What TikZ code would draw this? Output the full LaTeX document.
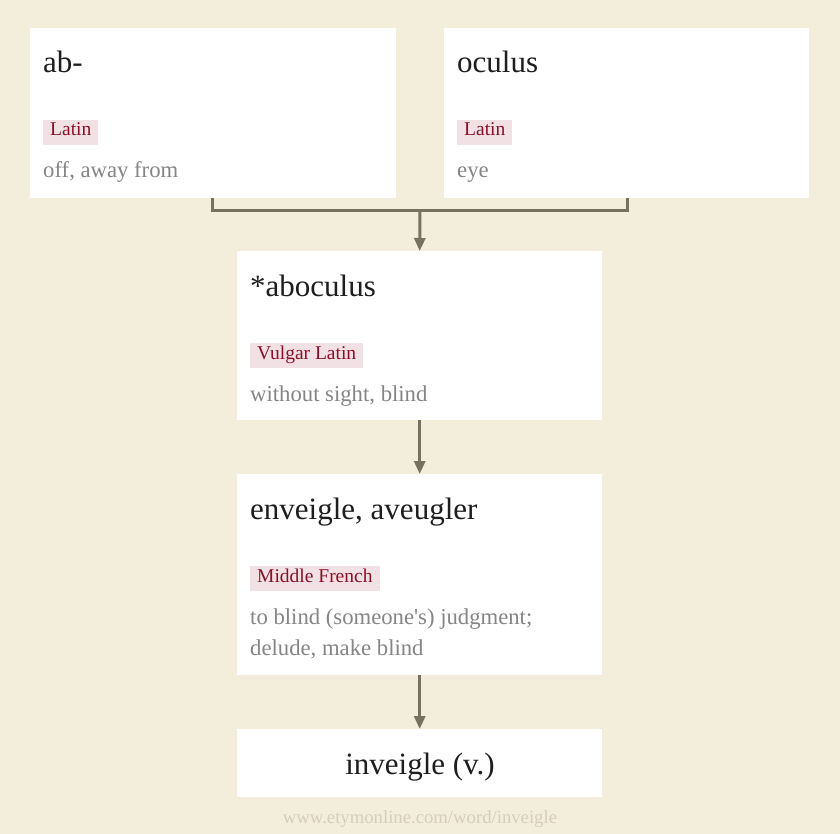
\documentclass[tikz,border=0pt]{standalone}
\usepackage{fontspec}
\setmainfont{Liberation Serif}
\usetikzlibrary{arrows.meta}
\definecolor{bg}{HTML}{F3EDDC}
\definecolor{conn}{HTML}{767161}
\definecolor{tagbg}{HTML}{F2E1E4}
\definecolor{tagfg}{HTML}{8A0F28}
\definecolor{gloss}{HTML}{858585}
\definecolor{titlec}{HTML}{1E1E1E}
\definecolor{wm}{HTML}{D6CDBA}
\tikzset{
  card/.style={fill=white, draw=none},
  titletext/.style={anchor=base west, inner sep=0pt, text=titlec, font=\fontsize{31}{36}\selectfont},
  tagtext/.style={anchor=base west, inner xsep=7pt, inner ysep=0pt, fill=tagbg, text=tagfg, font=\fontsize{19.5}{23}\selectfont, minimum height=25pt, text depth=7pt, text height=14pt},
  glosstext/.style={anchor=base west, inner sep=0pt, text=gloss, align=left, font=\fontsize{22.7}{31}\selectfont},
  link/.style={draw=conn, line width=3pt},
  arrowlink/.style={link, -{Triangle[length=13pt,width=11pt]}},
}
\begin{document}
\begin{tikzpicture}[x=1pt,y=-1pt]
\useasboundingbox[fill=bg] (0,0) rectangle (840,834);
% cards
\node[card, minimum width=366pt, minimum height=170pt, inner sep=0pt, anchor=north west] (ab) at (30,28) {};
\node[card, minimum width=365pt, minimum height=170pt, inner sep=0pt, anchor=north west] (oc) at (444,28) {};
\node[card, minimum width=365pt, minimum height=169pt, inner sep=0pt, anchor=north west] (abo) at (237,251) {};
\node[card, minimum width=365pt, minimum height=201pt, inner sep=0pt, anchor=north west] (env) at (237,474) {};
\node[card, minimum width=365pt, minimum height=68pt, inner sep=0pt, anchor=north west] (inv) at (237,729) {};
% ab-
\node[titletext] (t1) at (43,73) {ab-};
\node[tagtext] (l1) at (43,136) {Latin};
\node[glosstext] (g1) at (43,178) {off, away from};
% oculus
\node[titletext] (t2) at (457,73) {oculus};
\node[tagtext] (l2) at (457,136) {Latin};
\node[glosstext] (g2) at (457,178) {eye};
% aboculus
\node[titletext] (t3) at (250,296) {*aboculus};
\node[tagtext] (l3) at (250,359) {Vulgar Latin};
\node[glosstext] (g3) at (250,401) {without sight, blind};
% enveigle
\node[titletext] (t4) at (250,519) {enveigle, aveugler};
\node[tagtext] (l4) at (250,582) {Middle French};
\node[glosstext] (g4) at (250,655) {to blind (someone\textquotesingle s) judgment;\\delude, make blind};
% inveigle
\node[titletext, anchor=base] (t5) at (420,774) {inveigle (v.)};
% watermark
\node[anchor=base, inner sep=0pt, text=wm, font=\fontsize{18.7}{21}\selectfont] (w) at (420,823) {www.etymonline.com/word/inveigle};
% connectors
\coordinate (j) at (420,211);
\draw[link] (ab.south -| 212,0) |- (j) -| (oc.south -| 627,0);
\draw[arrowlink] (j) -- (abo.north);
\draw[arrowlink] (abo.south) -- (env.north);
\draw[arrowlink] (env.south) -- (inv.north);
\end{tikzpicture}
\end{document}
